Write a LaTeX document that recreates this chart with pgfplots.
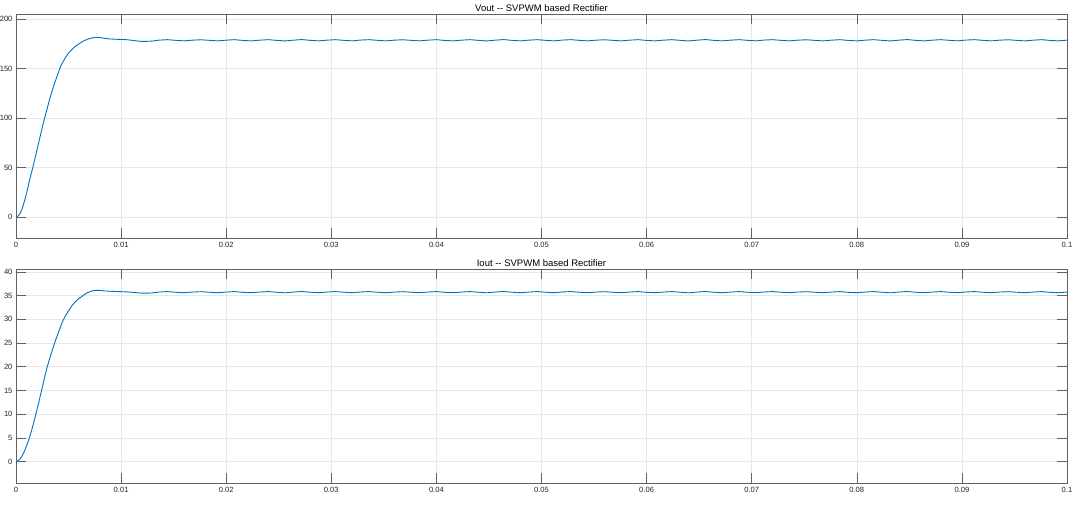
\documentclass[border=0pt]{standalone}
\usepackage{pgfplots}
\pgfplotsset{compat=1.18}
\usepackage{pgfplotstable}
\usepackage{fontspec}
\setmainfont{Liberation Sans}
\definecolor{mblue}{RGB}{0,114,189}
\pgfplotstableread{
t v i
0 0 0
0.0002 1.2 0.2
0.0004 4 0.6
0.0006 9 1.3
0.0008 16 2.2
0.0010 24 3.3
0.0012 33 4.5
0.0014 42 5.9
0.0016 50 7.5
0.0018 59 9.2
0.0020 68 11.0
0.0022 77 12.8
0.0024 86 14.7
0.0026 95 16.6
0.0028 103 18.5
0.0030 111 20.2
0.0032 119 21.7
0.0034 126 23.1
0.0036 133 24.5
0.0038 139 25.8
0.0040 145 27.0
0.0042 151 28.2
0.0044 155.5 29.4
0.0046 159 30.3
0.0048 162.5 31.1
0.0050 165.5 31.8
0.0053 169 32.8
0.0056 172 33.6
0.0059 174.3 34.2
0.0062 176.3 34.7
0.0065 178.2 35.2
0.0068 179.5 35.6
0.0071 180.5 35.9
0.0074 181.1 36.05
0.0077 181.4 36.1
0.0080 181.2 36.08
0.0083 180.7 36.0
0.0086 180.2 35.95
0.0090 179.8 35.9
0.0095 179.5 35.86
0.0100 179.3 35.82
0.0105 179.1 35.78
0.0110 178.5 35.7
0.0115 177.8 35.6
0.0120 177.3 35.5
0.0125 177.4 35.5
0.0130 177.7 35.56
0.0136 178.6 35.74
0.0144 179.1 35.84
0.0152 178.4 35.70
0.0160 177.9 35.60
0.0168 178.6 35.74
0.0176 179.0 35.82
0.0184 178.4 35.70
0.0192 177.9 35.60
0.0200 178.6 35.74
0.0208 179.1 35.84
0.0216 178.3 35.68
0.0224 177.9 35.60
0.0232 178.6 35.74
0.0240 179.1 35.84
0.0248 178.4 35.70
0.0256 177.8 35.58
0.0264 178.6 35.74
0.0272 179.2 35.86
0.0280 178.4 35.70
0.0288 177.9 35.60
0.0296 178.6 35.74
0.0304 179.1 35.84
0.0312 178.4 35.70
0.0320 177.9 35.60
0.0328 178.7 35.76
0.0336 179.1 35.84
0.0344 178.4 35.70
0.0352 177.9 35.60
0.0360 178.6 35.74
0.0368 179.0 35.82
0.0376 178.4 35.70
0.0384 177.9 35.60
0.0392 178.6 35.74
0.0400 179.1 35.84
0.0408 178.3 35.68
0.0416 177.9 35.60
0.0424 178.6 35.74
0.0432 179.1 35.84
0.0440 178.4 35.70
0.0448 177.8 35.58
0.0456 178.6 35.74
0.0464 179.2 35.86
0.0472 178.4 35.70
0.0480 177.9 35.60
0.0488 178.6 35.74
0.0496 179.1 35.84
0.0504 178.4 35.70
0.0512 177.9 35.60
0.0520 178.7 35.76
0.0528 179.1 35.84
0.0536 178.4 35.70
0.0544 177.9 35.60
0.0552 178.6 35.74
0.0560 179.0 35.82
0.0568 178.4 35.70
0.0576 177.9 35.60
0.0584 178.6 35.74
0.0592 179.1 35.84
0.0600 178.3 35.68
0.0608 177.9 35.60
0.0616 178.6 35.74
0.0624 179.1 35.84
0.0632 178.4 35.70
0.0640 177.8 35.58
0.0648 178.6 35.74
0.0656 179.2 35.86
0.0664 178.4 35.70
0.0672 177.9 35.60
0.0680 178.6 35.74
0.0688 179.1 35.84
0.0696 178.4 35.70
0.0704 177.9 35.60
0.0712 178.7 35.76
0.0720 179.1 35.84
0.0728 178.4 35.70
0.0736 177.9 35.60
0.0744 178.6 35.74
0.0752 179.0 35.82
0.0760 178.4 35.70
0.0768 177.9 35.60
0.0776 178.6 35.74
0.0784 179.1 35.84
0.0792 178.3 35.68
0.0800 177.9 35.60
0.0808 178.6 35.74
0.0816 179.1 35.84
0.0824 178.4 35.70
0.0832 177.8 35.58
0.0840 178.6 35.74
0.0848 179.2 35.86
0.0856 178.4 35.70
0.0864 177.9 35.60
0.0872 178.6 35.74
0.0880 179.1 35.84
0.0888 178.4 35.70
0.0896 177.9 35.60
0.0904 178.7 35.76
0.0912 179.1 35.84
0.0920 178.4 35.70
0.0928 177.9 35.60
0.0936 178.6 35.74
0.0944 179.0 35.82
0.0952 178.4 35.70
0.0960 177.9 35.60
0.0968 178.6 35.74
0.0976 179.1 35.84
0.0984 178.3 35.68
0.0992 177.9 35.60
0.1000 178.6 35.74
}\datatable
\pgfplotsset{
  myax/.style={
    scale only axis,
    width=1051pt,
    xmin=0, xmax=0.1,
    xtick={0,0.01,0.02,0.03,0.04,0.05,0.06,0.07,0.08,0.09,0.1},
    xticklabels={0,0.01,0.02,0.03,0.04,0.05,0.06,0.07,0.08,0.09,0.1},
    grid=major,
    major grid style={draw=gray!18, line width=0.6pt},
    tick align=inside,
    major tick length=10pt,
    axis line style={draw=black!62, line width=0.7pt},
    every tick/.style={draw=black!62, line width=0.6pt},
    ticklabel style={font=\fontsize{7.6}{8.5}\selectfont, text=black!85},
    xticklabel style={yshift=-1pt},
    title style={at={(0.5,1)}, anchor=south, yshift=-6pt, inner sep=2pt, font=\fontsize{9.5}{11}\selectfont},
    /pgf/number format/assume math mode=true,
  }
}
\begin{document}
\begin{tikzpicture}
\useasboundingbox (0pt,0pt) rectangle (1080pt,508pt);
\begin{axis}[myax,
  at={(16pt,270pt)}, anchor=south west,
  height=224pt,
  ymin=-21, ymax=205,
  ytick={0,50,100,150,200},
  yticklabels={0,50,100,150,200},
  title={Vout -{}- SVPWM based Rectifier}]
\addplot[mblue, line width=0.9pt] table[x=t, y=v] {\datatable};
\end{axis}
\begin{axis}[myax,
  at={(16pt,25pt)}, anchor=south west,
  height=214pt,
  ymin=-4.5, ymax=40.6,
  ytick={0,5,10,15,20,25,30,35,40},
  yticklabels={0,5,10,15,20,25,30,35,40},
  title={Iout -{}- SVPWM based Rectifier}]
\addplot[mblue, line width=0.9pt] table[x=t, y=i] {\datatable};
\end{axis}
\end{tikzpicture}
\end{document}
